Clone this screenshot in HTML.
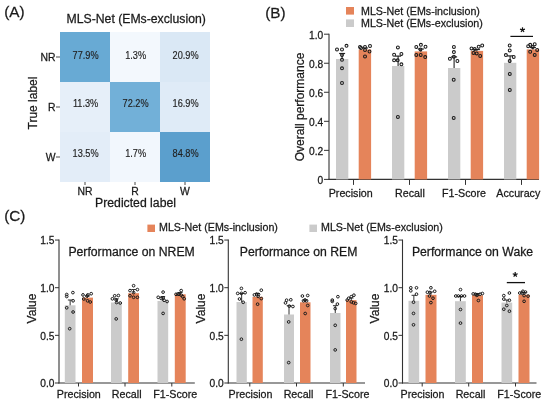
<!DOCTYPE html>
<html><head><meta charset="utf-8"><style>
html,body{margin:0;padding:0;background:#fff;width:550px;height:403px;overflow:hidden}
svg{display:block;font-family:"Liberation Sans", sans-serif;will-change:transform}
</style></head><body>
<svg width="550" height="403" viewBox="0 0 550 403">
<rect width="550" height="403" fill="#fff"/>
<text transform="translate(4.20,17.20) scale(1.02,1)" font-size="15" text-anchor="start" fill="#1a1a1a" stroke="#1a1a1a" stroke-width="0.25" >(A)</text>
<text transform="translate(136.20,22.50) scale(1.02,1)" font-size="12" text-anchor="middle" fill="#1a1a1a" stroke="#1a1a1a" stroke-width="0.25" >MLS-Net (EMs-exclusion)</text>
<rect x="60.00" y="32.00" width="50.00" height="50.00" fill="#68aad4"/>
<text transform="translate(85.60,58.60) scale(0.92,1)" font-size="10.0" text-anchor="middle" fill="#222" stroke="#222" stroke-width="0.15" >77.9%</text>
<rect x="110.00" y="32.00" width="50.00" height="50.00" fill="#f3f8fd"/>
<text transform="translate(135.60,58.60) scale(0.92,1)" font-size="10.0" text-anchor="middle" fill="#222" stroke="#222" stroke-width="0.15" >1.3%</text>
<rect x="160.00" y="32.00" width="50.00" height="50.00" fill="#dae8f5"/>
<text transform="translate(185.60,58.60) scale(0.92,1)" font-size="10.0" text-anchor="middle" fill="#222" stroke="#222" stroke-width="0.15" >20.9%</text>
<rect x="60.00" y="82.00" width="50.00" height="50.00" fill="#e6eff9"/>
<text transform="translate(85.60,106.80) scale(0.92,1)" font-size="10.0" text-anchor="middle" fill="#222" stroke="#222" stroke-width="0.15" >11.3%</text>
<rect x="110.00" y="82.00" width="50.00" height="50.00" fill="#72b0d8"/>
<text transform="translate(135.60,106.80) scale(0.92,1)" font-size="10.0" text-anchor="middle" fill="#222" stroke="#222" stroke-width="0.15" >72.2%</text>
<rect x="160.00" y="82.00" width="50.00" height="50.00" fill="#dfebf7"/>
<text transform="translate(185.60,106.80) scale(0.92,1)" font-size="10.0" text-anchor="middle" fill="#222" stroke="#222" stroke-width="0.15" >16.9%</text>
<rect x="60.00" y="132.00" width="50.00" height="50.00" fill="#e3edf8"/>
<text transform="translate(85.60,156.60) scale(0.92,1)" font-size="10.0" text-anchor="middle" fill="#222" stroke="#222" stroke-width="0.15" >13.5%</text>
<rect x="110.00" y="132.00" width="50.00" height="50.00" fill="#f2f7fd"/>
<text transform="translate(135.60,156.60) scale(0.92,1)" font-size="10.0" text-anchor="middle" fill="#222" stroke="#222" stroke-width="0.15" >1.7%</text>
<rect x="160.00" y="132.00" width="50.00" height="50.00" fill="#5b9fcd"/>
<text transform="translate(185.60,156.60) scale(0.92,1)" font-size="10.0" text-anchor="middle" fill="#222" stroke="#222" stroke-width="0.15" >84.8%</text>
<line x1="56.00" y1="57.00" x2="60.00" y2="57.00" stroke="#333333" stroke-width="0.9"/>
<text transform="translate(55.50,60.70) scale(1.02,1)" font-size="10.2" text-anchor="end" fill="#1a1a1a" stroke="#1a1a1a" stroke-width="0.25" >NR</text>
<line x1="85.00" y1="182.00" x2="85.00" y2="185.00" stroke="#333333" stroke-width="0.9"/>
<text transform="translate(85.00,194.80) scale(1.02,1)" font-size="10.2" text-anchor="middle" fill="#1a1a1a" stroke="#1a1a1a" stroke-width="0.25" >NR</text>
<line x1="56.00" y1="107.00" x2="60.00" y2="107.00" stroke="#333333" stroke-width="0.9"/>
<text transform="translate(55.50,110.70) scale(1.02,1)" font-size="10.2" text-anchor="end" fill="#1a1a1a" stroke="#1a1a1a" stroke-width="0.25" >R</text>
<line x1="135.00" y1="182.00" x2="135.00" y2="185.00" stroke="#333333" stroke-width="0.9"/>
<text transform="translate(135.00,194.80) scale(1.02,1)" font-size="10.2" text-anchor="middle" fill="#1a1a1a" stroke="#1a1a1a" stroke-width="0.25" >R</text>
<line x1="56.00" y1="157.00" x2="60.00" y2="157.00" stroke="#333333" stroke-width="0.9"/>
<text transform="translate(55.50,160.70) scale(1.02,1)" font-size="10.2" text-anchor="end" fill="#1a1a1a" stroke="#1a1a1a" stroke-width="0.25" >W</text>
<line x1="185.00" y1="182.00" x2="185.00" y2="185.00" stroke="#333333" stroke-width="0.9"/>
<text transform="translate(185.00,194.80) scale(1.02,1)" font-size="10.2" text-anchor="middle" fill="#1a1a1a" stroke="#1a1a1a" stroke-width="0.25" >W</text>
<text transform="translate(135.50,207.30) scale(1.02,1)" font-size="12" text-anchor="middle" fill="#1a1a1a" stroke="#1a1a1a" stroke-width="0.25" >Predicted label</text>
<text x="0" y="0" font-size="12" text-anchor="middle" fill="#1a1a1a" stroke="#1a1a1a" stroke-width="0.25" transform="translate(36.6,103) rotate(-90)">True label</text>
<text transform="translate(265.20,17.50) scale(1.02,1)" font-size="15" text-anchor="start" fill="#1a1a1a" stroke="#1a1a1a" stroke-width="0.25" >(B)</text>
<rect x="346.00" y="7.00" width="8.00" height="7.60" fill="#e5845a"/>
<rect x="346.00" y="19.40" width="8.00" height="7.60" fill="#cbcbcb"/>
<text transform="translate(361.00,15.20) scale(1.02,1)" font-size="10.5" text-anchor="start" fill="#1a1a1a" stroke="#1a1a1a" stroke-width="0.25" >MLS-Net (EMs-inclusion)</text>
<text transform="translate(361.00,27.20) scale(1.02,1)" font-size="10.5" text-anchor="start" fill="#1a1a1a" stroke="#1a1a1a" stroke-width="0.25" >MLS-Net (EMs-exclusion)</text>
<line x1="329.00" y1="33.70" x2="329.00" y2="179.90" stroke="#333333" stroke-width="1.1"/>
<line x1="328.50" y1="179.40" x2="539.00" y2="179.40" stroke="#333333" stroke-width="1.1"/>
<line x1="324.00" y1="179.40" x2="329.00" y2="179.40" stroke="#333333" stroke-width="1.0"/>
<text transform="translate(323.20,183.70) scale(1.02,1)" font-size="10.0" text-anchor="end" fill="#1a1a1a" stroke="#1a1a1a" stroke-width="0.25" >0</text>
<line x1="324.00" y1="150.36" x2="329.00" y2="150.36" stroke="#333333" stroke-width="1.0"/>
<text transform="translate(323.20,154.66) scale(1.02,1)" font-size="10.0" text-anchor="end" fill="#1a1a1a" stroke="#1a1a1a" stroke-width="0.25" >0.2</text>
<line x1="324.00" y1="121.32" x2="329.00" y2="121.32" stroke="#333333" stroke-width="1.0"/>
<text transform="translate(323.20,125.62) scale(1.02,1)" font-size="10.0" text-anchor="end" fill="#1a1a1a" stroke="#1a1a1a" stroke-width="0.25" >0.4</text>
<line x1="324.00" y1="92.28" x2="329.00" y2="92.28" stroke="#333333" stroke-width="1.0"/>
<text transform="translate(323.20,96.58) scale(1.02,1)" font-size="10.0" text-anchor="end" fill="#1a1a1a" stroke="#1a1a1a" stroke-width="0.25" >0.6</text>
<line x1="324.00" y1="63.24" x2="329.00" y2="63.24" stroke="#333333" stroke-width="1.0"/>
<text transform="translate(323.20,67.54) scale(1.02,1)" font-size="10.0" text-anchor="end" fill="#1a1a1a" stroke="#1a1a1a" stroke-width="0.25" >0.8</text>
<line x1="324.00" y1="34.20" x2="329.00" y2="34.20" stroke="#333333" stroke-width="1.0"/>
<text transform="translate(323.20,38.50) scale(1.02,1)" font-size="10.0" text-anchor="end" fill="#1a1a1a" stroke="#1a1a1a" stroke-width="0.25" >1.0</text>
<text x="0" y="0" font-size="12" text-anchor="middle" fill="#1a1a1a" stroke="#1a1a1a" stroke-width="0.25" transform="translate(304.2,107) rotate(-90)">Overall performance</text>
<rect x="336.00" y="59.00" width="12.30" height="120.40" fill="#cbcbcb"/>
<rect x="358.70" y="49.50" width="12.40" height="129.90" fill="#e5845a"/>
<line x1="342.10" y1="53.50" x2="342.10" y2="59.00" stroke="#222" stroke-width="1.1"/>
<line x1="339.10" y1="53.50" x2="345.10" y2="53.50" stroke="#222" stroke-width="1.2"/>
<line x1="364.90" y1="48.00" x2="364.90" y2="49.50" stroke="#222" stroke-width="1.1"/>
<line x1="361.90" y1="48.00" x2="367.90" y2="48.00" stroke="#222" stroke-width="1.2"/>
<circle cx="337.00" cy="49.50" r="1.45" fill="none" stroke="#1a1a1a" stroke-width="1.05"/>
<circle cx="342.00" cy="49.50" r="1.45" fill="none" stroke="#1a1a1a" stroke-width="1.05"/>
<circle cx="346.50" cy="45.80" r="1.45" fill="none" stroke="#1a1a1a" stroke-width="1.05"/>
<circle cx="342.00" cy="55.00" r="1.45" fill="none" stroke="#1a1a1a" stroke-width="1.05"/>
<circle cx="342.00" cy="59.80" r="1.45" fill="none" stroke="#1a1a1a" stroke-width="1.05"/>
<circle cx="342.00" cy="68.30" r="1.45" fill="none" stroke="#1a1a1a" stroke-width="1.05"/>
<circle cx="342.00" cy="83.00" r="1.45" fill="none" stroke="#1a1a1a" stroke-width="1.05"/>
<circle cx="360.00" cy="47.00" r="1.45" fill="none" stroke="#1a1a1a" stroke-width="1.05"/>
<circle cx="365.00" cy="47.00" r="1.45" fill="none" stroke="#1a1a1a" stroke-width="1.05"/>
<circle cx="370.00" cy="46.00" r="1.45" fill="none" stroke="#1a1a1a" stroke-width="1.05"/>
<circle cx="365.00" cy="50.00" r="1.45" fill="none" stroke="#1a1a1a" stroke-width="1.05"/>
<circle cx="369.50" cy="51.50" r="1.45" fill="none" stroke="#1a1a1a" stroke-width="1.05"/>
<circle cx="365.00" cy="56.50" r="1.45" fill="none" stroke="#1a1a1a" stroke-width="1.05"/>
<circle cx="361.00" cy="48.00" r="1.45" fill="none" stroke="#1a1a1a" stroke-width="1.05"/>
<line x1="353.50" y1="179.40" x2="353.50" y2="184.90" stroke="#333333" stroke-width="1.0"/>
<text transform="translate(350.70,197.40) scale(1.02,1)" font-size="10.5" text-anchor="middle" fill="#1a1a1a" stroke="#1a1a1a" stroke-width="0.25" >Precision</text>
<rect x="392.00" y="66.00" width="12.30" height="113.40" fill="#cbcbcb"/>
<rect x="414.70" y="51.40" width="12.40" height="128.00" fill="#e5845a"/>
<line x1="398.10" y1="56.10" x2="398.10" y2="66.00" stroke="#222" stroke-width="1.1"/>
<line x1="395.10" y1="56.10" x2="401.10" y2="56.10" stroke="#222" stroke-width="1.2"/>
<line x1="420.90" y1="49.00" x2="420.90" y2="51.40" stroke="#222" stroke-width="1.1"/>
<line x1="417.90" y1="49.00" x2="423.90" y2="49.00" stroke="#222" stroke-width="1.2"/>
<circle cx="397.90" cy="47.40" r="1.45" fill="none" stroke="#1a1a1a" stroke-width="1.05"/>
<circle cx="394.10" cy="54.70" r="1.45" fill="none" stroke="#1a1a1a" stroke-width="1.05"/>
<circle cx="401.40" cy="53.90" r="1.45" fill="none" stroke="#1a1a1a" stroke-width="1.05"/>
<circle cx="394.10" cy="60.30" r="1.45" fill="none" stroke="#1a1a1a" stroke-width="1.05"/>
<circle cx="397.70" cy="60.30" r="1.45" fill="none" stroke="#1a1a1a" stroke-width="1.05"/>
<circle cx="401.40" cy="64.30" r="1.45" fill="none" stroke="#1a1a1a" stroke-width="1.05"/>
<circle cx="397.90" cy="116.90" r="1.45" fill="none" stroke="#1a1a1a" stroke-width="1.05"/>
<circle cx="416.30" cy="46.90" r="1.45" fill="none" stroke="#1a1a1a" stroke-width="1.05"/>
<circle cx="420.90" cy="44.80" r="1.45" fill="none" stroke="#1a1a1a" stroke-width="1.05"/>
<circle cx="425.50" cy="46.70" r="1.45" fill="none" stroke="#1a1a1a" stroke-width="1.05"/>
<circle cx="420.50" cy="49.40" r="1.45" fill="none" stroke="#1a1a1a" stroke-width="1.05"/>
<circle cx="416.30" cy="54.90" r="1.45" fill="none" stroke="#1a1a1a" stroke-width="1.05"/>
<circle cx="420.70" cy="54.90" r="1.45" fill="none" stroke="#1a1a1a" stroke-width="1.05"/>
<circle cx="425.20" cy="57.10" r="1.45" fill="none" stroke="#1a1a1a" stroke-width="1.05"/>
<line x1="409.50" y1="179.40" x2="409.50" y2="184.90" stroke="#333333" stroke-width="1.0"/>
<text transform="translate(409.90,197.40) scale(1.02,1)" font-size="10.5" text-anchor="middle" fill="#1a1a1a" stroke="#1a1a1a" stroke-width="0.25" >Recall</text>
<rect x="448.00" y="68.00" width="12.30" height="111.40" fill="#cbcbcb"/>
<rect x="470.70" y="50.90" width="12.40" height="128.50" fill="#e5845a"/>
<line x1="454.10" y1="56.90" x2="454.10" y2="68.00" stroke="#222" stroke-width="1.1"/>
<line x1="451.10" y1="56.90" x2="457.10" y2="56.90" stroke="#222" stroke-width="1.2"/>
<line x1="476.90" y1="49.50" x2="476.90" y2="50.90" stroke="#222" stroke-width="1.1"/>
<line x1="473.90" y1="49.50" x2="479.90" y2="49.50" stroke="#222" stroke-width="1.2"/>
<circle cx="453.90" cy="46.90" r="1.45" fill="none" stroke="#1a1a1a" stroke-width="1.05"/>
<circle cx="453.90" cy="52.10" r="1.45" fill="none" stroke="#1a1a1a" stroke-width="1.05"/>
<circle cx="453.90" cy="56.70" r="1.45" fill="none" stroke="#1a1a1a" stroke-width="1.05"/>
<circle cx="449.90" cy="58.70" r="1.45" fill="none" stroke="#1a1a1a" stroke-width="1.05"/>
<circle cx="457.40" cy="61.00" r="1.45" fill="none" stroke="#1a1a1a" stroke-width="1.05"/>
<circle cx="453.70" cy="79.70" r="1.45" fill="none" stroke="#1a1a1a" stroke-width="1.05"/>
<circle cx="453.70" cy="117.90" r="1.45" fill="none" stroke="#1a1a1a" stroke-width="1.05"/>
<circle cx="471.50" cy="48.40" r="1.45" fill="none" stroke="#1a1a1a" stroke-width="1.05"/>
<circle cx="474.70" cy="49.10" r="1.45" fill="none" stroke="#1a1a1a" stroke-width="1.05"/>
<circle cx="478.70" cy="46.70" r="1.45" fill="none" stroke="#1a1a1a" stroke-width="1.05"/>
<circle cx="482.20" cy="45.50" r="1.45" fill="none" stroke="#1a1a1a" stroke-width="1.05"/>
<circle cx="473.50" cy="52.90" r="1.45" fill="none" stroke="#1a1a1a" stroke-width="1.05"/>
<circle cx="476.70" cy="53.40" r="1.45" fill="none" stroke="#1a1a1a" stroke-width="1.05"/>
<circle cx="480.20" cy="55.90" r="1.45" fill="none" stroke="#1a1a1a" stroke-width="1.05"/>
<line x1="465.50" y1="179.40" x2="465.50" y2="184.90" stroke="#333333" stroke-width="1.0"/>
<text transform="translate(464.00,197.40) scale(1.02,1)" font-size="10.5" text-anchor="middle" fill="#1a1a1a" stroke="#1a1a1a" stroke-width="0.25" >F1-Score</text>
<rect x="504.00" y="62.80" width="12.30" height="116.60" fill="#cbcbcb"/>
<rect x="526.70" y="49.40" width="12.40" height="130.00" fill="#e5845a"/>
<line x1="510.10" y1="55.90" x2="510.10" y2="62.80" stroke="#222" stroke-width="1.1"/>
<line x1="507.10" y1="55.90" x2="513.10" y2="55.90" stroke="#222" stroke-width="1.2"/>
<line x1="532.90" y1="47.50" x2="532.90" y2="49.40" stroke="#222" stroke-width="1.1"/>
<line x1="529.90" y1="47.50" x2="535.90" y2="47.50" stroke="#222" stroke-width="1.2"/>
<circle cx="509.70" cy="45.50" r="1.45" fill="none" stroke="#1a1a1a" stroke-width="1.05"/>
<circle cx="509.70" cy="50.40" r="1.45" fill="none" stroke="#1a1a1a" stroke-width="1.05"/>
<circle cx="505.90" cy="55.10" r="1.45" fill="none" stroke="#1a1a1a" stroke-width="1.05"/>
<circle cx="513.70" cy="56.90" r="1.45" fill="none" stroke="#1a1a1a" stroke-width="1.05"/>
<circle cx="509.70" cy="61.00" r="1.45" fill="none" stroke="#1a1a1a" stroke-width="1.05"/>
<circle cx="509.80" cy="73.90" r="1.45" fill="none" stroke="#1a1a1a" stroke-width="1.05"/>
<circle cx="509.80" cy="89.90" r="1.45" fill="none" stroke="#1a1a1a" stroke-width="1.05"/>
<circle cx="528.20" cy="46.20" r="1.45" fill="none" stroke="#1a1a1a" stroke-width="1.05"/>
<circle cx="530.20" cy="44.80" r="1.45" fill="none" stroke="#1a1a1a" stroke-width="1.05"/>
<circle cx="534.70" cy="44.20" r="1.45" fill="none" stroke="#1a1a1a" stroke-width="1.05"/>
<circle cx="532.70" cy="47.10" r="1.45" fill="none" stroke="#1a1a1a" stroke-width="1.05"/>
<circle cx="537.20" cy="49.90" r="1.45" fill="none" stroke="#1a1a1a" stroke-width="1.05"/>
<circle cx="530.20" cy="51.70" r="1.45" fill="none" stroke="#1a1a1a" stroke-width="1.05"/>
<circle cx="534.70" cy="54.90" r="1.45" fill="none" stroke="#1a1a1a" stroke-width="1.05"/>
<line x1="521.50" y1="179.40" x2="521.50" y2="184.90" stroke="#333333" stroke-width="1.0"/>
<text transform="translate(518.30,197.40) scale(1.02,1)" font-size="10.5" text-anchor="middle" fill="#1a1a1a" stroke="#1a1a1a" stroke-width="0.25" >Accuracy</text>
<line x1="510.40" y1="36.40" x2="533.00" y2="36.40" stroke="#111" stroke-width="1.2"/>
<line x1="522.50" y1="29.90" x2="522.50" y2="27.30" stroke="#111" stroke-width="1.2" stroke-linecap="butt"/>
<line x1="522.50" y1="29.90" x2="524.97" y2="29.10" stroke="#111" stroke-width="1.2" stroke-linecap="butt"/>
<line x1="522.50" y1="29.90" x2="524.03" y2="32.00" stroke="#111" stroke-width="1.2" stroke-linecap="butt"/>
<line x1="522.50" y1="29.90" x2="520.97" y2="32.00" stroke="#111" stroke-width="1.2" stroke-linecap="butt"/>
<line x1="522.50" y1="29.90" x2="520.03" y2="29.10" stroke="#111" stroke-width="1.2" stroke-linecap="butt"/>
<text transform="translate(4.20,221.00) scale(1.02,1)" font-size="15" text-anchor="start" fill="#1a1a1a" stroke="#1a1a1a" stroke-width="0.25" >(C)</text>
<rect x="147.40" y="224.60" width="7.60" height="7.40" fill="#e5845a"/>
<text transform="translate(159.00,231.30) scale(1.02,1)" font-size="10.5" text-anchor="start" fill="#1a1a1a" stroke="#1a1a1a" stroke-width="0.25" >MLS-Net (EMs-inclusion)</text>
<rect x="309.40" y="224.60" width="7.60" height="7.40" fill="#cbcbcb"/>
<text transform="translate(321.00,231.30) scale(1.02,1)" font-size="10.5" text-anchor="start" fill="#1a1a1a" stroke="#1a1a1a" stroke-width="0.25" >MLS-Net (EMs-exclusion)</text>
<line x1="59.00" y1="239.55" x2="59.00" y2="383.50" stroke="#333333" stroke-width="1.1"/>
<line x1="58.50" y1="383.00" x2="194.80" y2="383.00" stroke="#333333" stroke-width="1.1"/>
<line x1="55.00" y1="383.00" x2="59.00" y2="383.00" stroke="#333333" stroke-width="1.0"/>
<text transform="translate(54.40,387.40) scale(1.02,1)" font-size="10.0" text-anchor="end" fill="#1a1a1a" stroke="#1a1a1a" stroke-width="0.25" >0.0</text>
<line x1="55.00" y1="335.35" x2="59.00" y2="335.35" stroke="#333333" stroke-width="1.0"/>
<text transform="translate(54.40,339.75) scale(1.02,1)" font-size="10.0" text-anchor="end" fill="#1a1a1a" stroke="#1a1a1a" stroke-width="0.25" >0.5</text>
<line x1="55.00" y1="287.70" x2="59.00" y2="287.70" stroke="#333333" stroke-width="1.0"/>
<text transform="translate(54.40,292.10) scale(1.02,1)" font-size="10.0" text-anchor="end" fill="#1a1a1a" stroke="#1a1a1a" stroke-width="0.25" >1.0</text>
<line x1="55.00" y1="240.05" x2="59.00" y2="240.05" stroke="#333333" stroke-width="1.0"/>
<text transform="translate(54.40,244.45) scale(1.02,1)" font-size="10.0" text-anchor="end" fill="#1a1a1a" stroke="#1a1a1a" stroke-width="0.25" >1.5</text>
<text transform="translate(131.60,255.70) scale(1.02,1)" font-size="12" text-anchor="middle" fill="#1a1a1a" stroke="#1a1a1a" stroke-width="0.25" >Performance on NREM</text>
<text x="0" y="0" font-size="12" text-anchor="middle" fill="#1a1a1a" stroke="#1a1a1a" stroke-width="0.25" transform="translate(35.9,308.5) rotate(-90)">Value</text>
<rect x="64.80" y="305.30" width="10.70" height="77.70" fill="#cbcbcb"/>
<rect x="82.00" y="297.60" width="11.00" height="85.40" fill="#e5845a"/>
<line x1="70.15" y1="300.00" x2="70.15" y2="305.30" stroke="#333333" stroke-width="1.0"/>
<line x1="67.85" y1="300.00" x2="72.45" y2="300.00" stroke="#333333" stroke-width="1.0"/>
<line x1="87.50" y1="296.00" x2="87.50" y2="297.60" stroke="#333333" stroke-width="1.0"/>
<line x1="85.20" y1="296.00" x2="89.80" y2="296.00" stroke="#333333" stroke-width="1.0"/>
<circle cx="72.90" cy="292.60" r="1.35" fill="none" stroke="#1a1a1a" stroke-width="1.0"/>
<circle cx="66.70" cy="294.50" r="1.35" fill="none" stroke="#1a1a1a" stroke-width="1.0"/>
<circle cx="66.70" cy="296.50" r="1.35" fill="none" stroke="#1a1a1a" stroke-width="1.0"/>
<circle cx="73.10" cy="300.80" r="1.35" fill="none" stroke="#1a1a1a" stroke-width="1.0"/>
<circle cx="66.70" cy="307.80" r="1.35" fill="none" stroke="#1a1a1a" stroke-width="1.0"/>
<circle cx="73.10" cy="312.00" r="1.35" fill="none" stroke="#1a1a1a" stroke-width="1.0"/>
<circle cx="69.70" cy="328.70" r="1.35" fill="none" stroke="#1a1a1a" stroke-width="1.0"/>
<circle cx="83.00" cy="294.90" r="1.35" fill="none" stroke="#1a1a1a" stroke-width="1.0"/>
<circle cx="87.80" cy="294.90" r="1.35" fill="none" stroke="#1a1a1a" stroke-width="1.0"/>
<circle cx="91.20" cy="293.70" r="1.35" fill="none" stroke="#1a1a1a" stroke-width="1.0"/>
<circle cx="83.80" cy="299.00" r="1.35" fill="none" stroke="#1a1a1a" stroke-width="1.0"/>
<circle cx="87.50" cy="300.80" r="1.35" fill="none" stroke="#1a1a1a" stroke-width="1.0"/>
<circle cx="90.20" cy="302.00" r="1.35" fill="none" stroke="#1a1a1a" stroke-width="1.0"/>
<circle cx="87.00" cy="296.00" r="1.35" fill="none" stroke="#1a1a1a" stroke-width="1.0"/>
<line x1="78.50" y1="383.00" x2="78.50" y2="386.50" stroke="#333333" stroke-width="1.0"/>
<text transform="translate(78.80,398.30) scale(1.02,1)" font-size="10.5" text-anchor="middle" fill="#1a1a1a" stroke="#1a1a1a" stroke-width="0.25" >Precision</text>
<rect x="111.00" y="302.50" width="10.80" height="80.50" fill="#cbcbcb"/>
<rect x="128.20" y="293.20" width="10.80" height="89.80" fill="#e5845a"/>
<line x1="116.40" y1="298.80" x2="116.40" y2="302.50" stroke="#333333" stroke-width="1.0"/>
<line x1="114.10" y1="298.80" x2="118.70" y2="298.80" stroke="#333333" stroke-width="1.0"/>
<line x1="133.60" y1="289.50" x2="133.60" y2="293.20" stroke="#333333" stroke-width="1.0"/>
<line x1="131.30" y1="289.50" x2="135.90" y2="289.50" stroke="#333333" stroke-width="1.0"/>
<circle cx="114.70" cy="295.80" r="1.35" fill="none" stroke="#1a1a1a" stroke-width="1.0"/>
<circle cx="118.40" cy="295.50" r="1.35" fill="none" stroke="#1a1a1a" stroke-width="1.0"/>
<circle cx="112.40" cy="298.80" r="1.35" fill="none" stroke="#1a1a1a" stroke-width="1.0"/>
<circle cx="116.60" cy="302.50" r="1.35" fill="none" stroke="#1a1a1a" stroke-width="1.0"/>
<circle cx="120.20" cy="303.00" r="1.35" fill="none" stroke="#1a1a1a" stroke-width="1.0"/>
<circle cx="116.20" cy="318.90" r="1.35" fill="none" stroke="#1a1a1a" stroke-width="1.0"/>
<circle cx="116.20" cy="300.00" r="1.35" fill="none" stroke="#1a1a1a" stroke-width="1.0"/>
<circle cx="133.60" cy="285.70" r="1.35" fill="none" stroke="#1a1a1a" stroke-width="1.0"/>
<circle cx="130.00" cy="290.60" r="1.35" fill="none" stroke="#1a1a1a" stroke-width="1.0"/>
<circle cx="137.40" cy="289.60" r="1.35" fill="none" stroke="#1a1a1a" stroke-width="1.0"/>
<circle cx="133.60" cy="292.60" r="1.35" fill="none" stroke="#1a1a1a" stroke-width="1.0"/>
<circle cx="130.00" cy="295.80" r="1.35" fill="none" stroke="#1a1a1a" stroke-width="1.0"/>
<circle cx="133.60" cy="297.30" r="1.35" fill="none" stroke="#1a1a1a" stroke-width="1.0"/>
<circle cx="137.40" cy="297.30" r="1.35" fill="none" stroke="#1a1a1a" stroke-width="1.0"/>
<line x1="125.00" y1="383.00" x2="125.00" y2="386.50" stroke="#333333" stroke-width="1.0"/>
<text transform="translate(126.70,398.30) scale(1.02,1)" font-size="10.5" text-anchor="middle" fill="#1a1a1a" stroke="#1a1a1a" stroke-width="0.25" >Recall</text>
<rect x="157.50" y="301.00" width="10.70" height="82.00" fill="#cbcbcb"/>
<rect x="174.80" y="294.30" width="10.90" height="88.70" fill="#e5845a"/>
<line x1="162.85" y1="296.50" x2="162.85" y2="301.00" stroke="#333333" stroke-width="1.0"/>
<line x1="160.55" y1="296.50" x2="165.15" y2="296.50" stroke="#333333" stroke-width="1.0"/>
<line x1="180.25" y1="292.50" x2="180.25" y2="294.30" stroke="#333333" stroke-width="1.0"/>
<line x1="177.95" y1="292.50" x2="182.55" y2="292.50" stroke="#333333" stroke-width="1.0"/>
<circle cx="163.10" cy="292.10" r="1.35" fill="none" stroke="#1a1a1a" stroke-width="1.0"/>
<circle cx="158.20" cy="297.30" r="1.35" fill="none" stroke="#1a1a1a" stroke-width="1.0"/>
<circle cx="161.20" cy="298.50" r="1.35" fill="none" stroke="#1a1a1a" stroke-width="1.0"/>
<circle cx="164.10" cy="300.30" r="1.35" fill="none" stroke="#1a1a1a" stroke-width="1.0"/>
<circle cx="167.10" cy="301.50" r="1.35" fill="none" stroke="#1a1a1a" stroke-width="1.0"/>
<circle cx="163.10" cy="313.40" r="1.35" fill="none" stroke="#1a1a1a" stroke-width="1.0"/>
<circle cx="163.10" cy="298.00" r="1.35" fill="none" stroke="#1a1a1a" stroke-width="1.0"/>
<circle cx="181.20" cy="290.60" r="1.35" fill="none" stroke="#1a1a1a" stroke-width="1.0"/>
<circle cx="176.00" cy="294.30" r="1.35" fill="none" stroke="#1a1a1a" stroke-width="1.0"/>
<circle cx="179.00" cy="294.30" r="1.35" fill="none" stroke="#1a1a1a" stroke-width="1.0"/>
<circle cx="181.20" cy="295.10" r="1.35" fill="none" stroke="#1a1a1a" stroke-width="1.0"/>
<circle cx="182.70" cy="296.60" r="1.35" fill="none" stroke="#1a1a1a" stroke-width="1.0"/>
<circle cx="184.20" cy="298.80" r="1.35" fill="none" stroke="#1a1a1a" stroke-width="1.0"/>
<circle cx="178.00" cy="294.00" r="1.35" fill="none" stroke="#1a1a1a" stroke-width="1.0"/>
<line x1="171.80" y1="383.00" x2="171.80" y2="386.50" stroke="#333333" stroke-width="1.0"/>
<text transform="translate(175.30,398.30) scale(1.02,1)" font-size="10.5" text-anchor="middle" fill="#1a1a1a" stroke="#1a1a1a" stroke-width="0.25" >F1-Score</text>
<line x1="228.30" y1="239.55" x2="228.30" y2="383.50" stroke="#333333" stroke-width="1.1"/>
<line x1="227.80" y1="383.00" x2="365.00" y2="383.00" stroke="#333333" stroke-width="1.1"/>
<line x1="224.30" y1="383.00" x2="228.30" y2="383.00" stroke="#333333" stroke-width="1.0"/>
<text transform="translate(223.70,387.40) scale(1.02,1)" font-size="10.0" text-anchor="end" fill="#1a1a1a" stroke="#1a1a1a" stroke-width="0.25" >0.0</text>
<line x1="224.30" y1="335.35" x2="228.30" y2="335.35" stroke="#333333" stroke-width="1.0"/>
<text transform="translate(223.70,339.75) scale(1.02,1)" font-size="10.0" text-anchor="end" fill="#1a1a1a" stroke="#1a1a1a" stroke-width="0.25" >0.5</text>
<line x1="224.30" y1="287.70" x2="228.30" y2="287.70" stroke="#333333" stroke-width="1.0"/>
<text transform="translate(223.70,292.10) scale(1.02,1)" font-size="10.0" text-anchor="end" fill="#1a1a1a" stroke="#1a1a1a" stroke-width="0.25" >1.0</text>
<line x1="224.30" y1="240.05" x2="228.30" y2="240.05" stroke="#333333" stroke-width="1.0"/>
<text transform="translate(223.70,244.45) scale(1.02,1)" font-size="10.0" text-anchor="end" fill="#1a1a1a" stroke="#1a1a1a" stroke-width="0.25" >1.5</text>
<text transform="translate(298.60,255.70) scale(1.02,1)" font-size="12" text-anchor="middle" fill="#1a1a1a" stroke="#1a1a1a" stroke-width="0.25" >Performance on REM</text>
<text x="0" y="0" font-size="12" text-anchor="middle" fill="#1a1a1a" stroke="#1a1a1a" stroke-width="0.25" transform="translate(205.2,308.5) rotate(-90)">Value</text>
<rect x="236.50" y="302.00" width="10.30" height="81.00" fill="#cbcbcb"/>
<rect x="252.50" y="296.80" width="10.30" height="86.20" fill="#e5845a"/>
<line x1="241.65" y1="293.50" x2="241.65" y2="302.00" stroke="#333333" stroke-width="1.0"/>
<line x1="239.35" y1="293.50" x2="243.95" y2="293.50" stroke="#333333" stroke-width="1.0"/>
<line x1="257.65" y1="293.50" x2="257.65" y2="296.80" stroke="#333333" stroke-width="1.0"/>
<line x1="255.35" y1="293.50" x2="259.95" y2="293.50" stroke="#333333" stroke-width="1.0"/>
<circle cx="241.40" cy="288.40" r="1.35" fill="none" stroke="#1a1a1a" stroke-width="1.0"/>
<circle cx="237.70" cy="293.40" r="1.35" fill="none" stroke="#1a1a1a" stroke-width="1.0"/>
<circle cx="241.40" cy="293.40" r="1.35" fill="none" stroke="#1a1a1a" stroke-width="1.0"/>
<circle cx="245.10" cy="292.70" r="1.35" fill="none" stroke="#1a1a1a" stroke-width="1.0"/>
<circle cx="239.50" cy="299.00" r="1.35" fill="none" stroke="#1a1a1a" stroke-width="1.0"/>
<circle cx="243.20" cy="302.30" r="1.35" fill="none" stroke="#1a1a1a" stroke-width="1.0"/>
<circle cx="241.40" cy="339.20" r="1.35" fill="none" stroke="#1a1a1a" stroke-width="1.0"/>
<circle cx="261.30" cy="290.20" r="1.35" fill="none" stroke="#1a1a1a" stroke-width="1.0"/>
<circle cx="254.40" cy="294.90" r="1.35" fill="none" stroke="#1a1a1a" stroke-width="1.0"/>
<circle cx="256.60" cy="294.00" r="1.35" fill="none" stroke="#1a1a1a" stroke-width="1.0"/>
<circle cx="258.50" cy="294.50" r="1.35" fill="none" stroke="#1a1a1a" stroke-width="1.0"/>
<circle cx="258.10" cy="296.40" r="1.35" fill="none" stroke="#1a1a1a" stroke-width="1.0"/>
<circle cx="261.30" cy="298.60" r="1.35" fill="none" stroke="#1a1a1a" stroke-width="1.0"/>
<circle cx="257.60" cy="304.20" r="1.35" fill="none" stroke="#1a1a1a" stroke-width="1.0"/>
<line x1="249.80" y1="383.00" x2="249.80" y2="386.50" stroke="#333333" stroke-width="1.0"/>
<text transform="translate(250.50,398.30) scale(1.02,1)" font-size="10.5" text-anchor="middle" fill="#1a1a1a" stroke="#1a1a1a" stroke-width="0.25" >Precision</text>
<rect x="284.00" y="314.50" width="10.00" height="68.50" fill="#cbcbcb"/>
<rect x="300.00" y="302.30" width="10.50" height="80.70" fill="#e5845a"/>
<line x1="289.00" y1="305.70" x2="289.00" y2="314.50" stroke="#333333" stroke-width="1.0"/>
<line x1="286.70" y1="305.70" x2="291.30" y2="305.70" stroke="#333333" stroke-width="1.0"/>
<line x1="305.25" y1="300.00" x2="305.25" y2="302.30" stroke="#333333" stroke-width="1.0"/>
<line x1="302.95" y1="300.00" x2="307.55" y2="300.00" stroke="#333333" stroke-width="1.0"/>
<circle cx="286.60" cy="300.20" r="1.35" fill="none" stroke="#1a1a1a" stroke-width="1.0"/>
<circle cx="290.80" cy="299.80" r="1.35" fill="none" stroke="#1a1a1a" stroke-width="1.0"/>
<circle cx="285.50" cy="302.90" r="1.35" fill="none" stroke="#1a1a1a" stroke-width="1.0"/>
<circle cx="289.30" cy="306.10" r="1.35" fill="none" stroke="#1a1a1a" stroke-width="1.0"/>
<circle cx="292.90" cy="306.50" r="1.35" fill="none" stroke="#1a1a1a" stroke-width="1.0"/>
<circle cx="288.70" cy="321.90" r="1.35" fill="none" stroke="#1a1a1a" stroke-width="1.0"/>
<circle cx="288.70" cy="362.60" r="1.35" fill="none" stroke="#1a1a1a" stroke-width="1.0"/>
<circle cx="302.40" cy="296.00" r="1.35" fill="none" stroke="#1a1a1a" stroke-width="1.0"/>
<circle cx="307.70" cy="295.50" r="1.35" fill="none" stroke="#1a1a1a" stroke-width="1.0"/>
<circle cx="303.50" cy="300.80" r="1.35" fill="none" stroke="#1a1a1a" stroke-width="1.0"/>
<circle cx="306.60" cy="300.80" r="1.35" fill="none" stroke="#1a1a1a" stroke-width="1.0"/>
<circle cx="307.70" cy="305.50" r="1.35" fill="none" stroke="#1a1a1a" stroke-width="1.0"/>
<circle cx="305.20" cy="313.50" r="1.35" fill="none" stroke="#1a1a1a" stroke-width="1.0"/>
<circle cx="305.00" cy="300.00" r="1.35" fill="none" stroke="#1a1a1a" stroke-width="1.0"/>
<line x1="296.50" y1="383.00" x2="296.50" y2="386.50" stroke="#333333" stroke-width="1.0"/>
<text transform="translate(298.50,398.30) scale(1.02,1)" font-size="10.5" text-anchor="middle" fill="#1a1a1a" stroke="#1a1a1a" stroke-width="0.25" >Recall</text>
<rect x="330.00" y="313.00" width="10.50" height="70.00" fill="#cbcbcb"/>
<rect x="346.00" y="300.10" width="10.50" height="82.90" fill="#e5845a"/>
<line x1="335.25" y1="305.70" x2="335.25" y2="313.00" stroke="#333333" stroke-width="1.0"/>
<line x1="332.95" y1="305.70" x2="337.55" y2="305.70" stroke="#333333" stroke-width="1.0"/>
<line x1="351.25" y1="298.00" x2="351.25" y2="300.10" stroke="#333333" stroke-width="1.0"/>
<line x1="348.95" y1="298.00" x2="353.55" y2="298.00" stroke="#333333" stroke-width="1.0"/>
<circle cx="337.90" cy="296.70" r="1.35" fill="none" stroke="#1a1a1a" stroke-width="1.0"/>
<circle cx="332.30" cy="300.10" r="1.35" fill="none" stroke="#1a1a1a" stroke-width="1.0"/>
<circle cx="332.30" cy="301.40" r="1.35" fill="none" stroke="#1a1a1a" stroke-width="1.0"/>
<circle cx="337.40" cy="304.10" r="1.35" fill="none" stroke="#1a1a1a" stroke-width="1.0"/>
<circle cx="335.20" cy="308.60" r="1.35" fill="none" stroke="#1a1a1a" stroke-width="1.0"/>
<circle cx="335.20" cy="325.30" r="1.35" fill="none" stroke="#1a1a1a" stroke-width="1.0"/>
<circle cx="335.20" cy="349.90" r="1.35" fill="none" stroke="#1a1a1a" stroke-width="1.0"/>
<circle cx="353.90" cy="295.20" r="1.35" fill="none" stroke="#1a1a1a" stroke-width="1.0"/>
<circle cx="351.30" cy="296.70" r="1.35" fill="none" stroke="#1a1a1a" stroke-width="1.0"/>
<circle cx="348.60" cy="298.30" r="1.35" fill="none" stroke="#1a1a1a" stroke-width="1.0"/>
<circle cx="347.20" cy="300.10" r="1.35" fill="none" stroke="#1a1a1a" stroke-width="1.0"/>
<circle cx="351.30" cy="301.90" r="1.35" fill="none" stroke="#1a1a1a" stroke-width="1.0"/>
<circle cx="353.50" cy="302.80" r="1.35" fill="none" stroke="#1a1a1a" stroke-width="1.0"/>
<circle cx="355.70" cy="303.40" r="1.35" fill="none" stroke="#1a1a1a" stroke-width="1.0"/>
<line x1="343.30" y1="383.00" x2="343.30" y2="386.50" stroke="#333333" stroke-width="1.0"/>
<text transform="translate(347.40,398.30) scale(1.02,1)" font-size="10.5" text-anchor="middle" fill="#1a1a1a" stroke="#1a1a1a" stroke-width="0.25" >F1-Score</text>
<line x1="402.50" y1="239.55" x2="402.50" y2="383.50" stroke="#333333" stroke-width="1.1"/>
<line x1="402.00" y1="383.00" x2="536.50" y2="383.00" stroke="#333333" stroke-width="1.1"/>
<line x1="398.50" y1="383.00" x2="402.50" y2="383.00" stroke="#333333" stroke-width="1.0"/>
<text transform="translate(397.90,387.40) scale(1.02,1)" font-size="10.0" text-anchor="end" fill="#1a1a1a" stroke="#1a1a1a" stroke-width="0.25" >0.0</text>
<line x1="398.50" y1="335.35" x2="402.50" y2="335.35" stroke="#333333" stroke-width="1.0"/>
<text transform="translate(397.90,339.75) scale(1.02,1)" font-size="10.0" text-anchor="end" fill="#1a1a1a" stroke="#1a1a1a" stroke-width="0.25" >0.5</text>
<line x1="398.50" y1="287.70" x2="402.50" y2="287.70" stroke="#333333" stroke-width="1.0"/>
<text transform="translate(397.90,292.10) scale(1.02,1)" font-size="10.0" text-anchor="end" fill="#1a1a1a" stroke="#1a1a1a" stroke-width="0.25" >1.0</text>
<line x1="398.50" y1="240.05" x2="402.50" y2="240.05" stroke="#333333" stroke-width="1.0"/>
<text transform="translate(397.90,244.45) scale(1.02,1)" font-size="10.0" text-anchor="end" fill="#1a1a1a" stroke="#1a1a1a" stroke-width="0.25" >1.5</text>
<text transform="translate(472.50,255.70) scale(1.02,1)" font-size="12" text-anchor="middle" fill="#1a1a1a" stroke="#1a1a1a" stroke-width="0.25" >Performance on Wake</text>
<text x="0" y="0" font-size="12" text-anchor="middle" fill="#1a1a1a" stroke="#1a1a1a" stroke-width="0.25" transform="translate(378.5,308.5) rotate(-90)">Value</text>
<rect x="408.50" y="300.80" width="10.70" height="82.20" fill="#cbcbcb"/>
<rect x="425.50" y="294.80" width="11.00" height="88.20" fill="#e5845a"/>
<line x1="413.85" y1="295.30" x2="413.85" y2="300.80" stroke="#333333" stroke-width="1.0"/>
<line x1="411.55" y1="295.30" x2="416.15" y2="295.30" stroke="#333333" stroke-width="1.0"/>
<line x1="431.00" y1="292.00" x2="431.00" y2="294.80" stroke="#333333" stroke-width="1.0"/>
<line x1="428.70" y1="292.00" x2="433.30" y2="292.00" stroke="#333333" stroke-width="1.0"/>
<circle cx="410.80" cy="287.80" r="1.35" fill="none" stroke="#1a1a1a" stroke-width="1.0"/>
<circle cx="410.80" cy="290.80" r="1.35" fill="none" stroke="#1a1a1a" stroke-width="1.0"/>
<circle cx="416.50" cy="287.80" r="1.35" fill="none" stroke="#1a1a1a" stroke-width="1.0"/>
<circle cx="416.50" cy="294.20" r="1.35" fill="none" stroke="#1a1a1a" stroke-width="1.0"/>
<circle cx="413.50" cy="302.20" r="1.35" fill="none" stroke="#1a1a1a" stroke-width="1.0"/>
<circle cx="413.50" cy="313.40" r="1.35" fill="none" stroke="#1a1a1a" stroke-width="1.0"/>
<circle cx="413.50" cy="324.80" r="1.35" fill="none" stroke="#1a1a1a" stroke-width="1.0"/>
<circle cx="430.90" cy="287.80" r="1.35" fill="none" stroke="#1a1a1a" stroke-width="1.0"/>
<circle cx="427.40" cy="292.20" r="1.35" fill="none" stroke="#1a1a1a" stroke-width="1.0"/>
<circle cx="429.90" cy="292.50" r="1.35" fill="none" stroke="#1a1a1a" stroke-width="1.0"/>
<circle cx="434.70" cy="291.30" r="1.35" fill="none" stroke="#1a1a1a" stroke-width="1.0"/>
<circle cx="429.50" cy="296.00" r="1.35" fill="none" stroke="#1a1a1a" stroke-width="1.0"/>
<circle cx="433.00" cy="298.20" r="1.35" fill="none" stroke="#1a1a1a" stroke-width="1.0"/>
<circle cx="430.90" cy="302.60" r="1.35" fill="none" stroke="#1a1a1a" stroke-width="1.0"/>
<line x1="422.20" y1="383.00" x2="422.20" y2="386.50" stroke="#333333" stroke-width="1.0"/>
<text transform="translate(422.50,398.30) scale(1.02,1)" font-size="10.5" text-anchor="middle" fill="#1a1a1a" stroke="#1a1a1a" stroke-width="0.25" >Precision</text>
<rect x="455.00" y="301.20" width="10.80" height="81.80" fill="#cbcbcb"/>
<rect x="472.00" y="295.30" width="11.00" height="87.70" fill="#e5845a"/>
<line x1="460.40" y1="296.50" x2="460.40" y2="301.20" stroke="#333333" stroke-width="1.0"/>
<line x1="458.10" y1="296.50" x2="462.70" y2="296.50" stroke="#333333" stroke-width="1.0"/>
<line x1="477.50" y1="293.50" x2="477.50" y2="295.30" stroke="#333333" stroke-width="1.0"/>
<line x1="475.20" y1="293.50" x2="479.80" y2="293.50" stroke="#333333" stroke-width="1.0"/>
<circle cx="460.50" cy="289.60" r="1.35" fill="none" stroke="#1a1a1a" stroke-width="1.0"/>
<circle cx="455.80" cy="296.00" r="1.35" fill="none" stroke="#1a1a1a" stroke-width="1.0"/>
<circle cx="458.40" cy="296.00" r="1.35" fill="none" stroke="#1a1a1a" stroke-width="1.0"/>
<circle cx="461.50" cy="296.00" r="1.35" fill="none" stroke="#1a1a1a" stroke-width="1.0"/>
<circle cx="464.50" cy="296.00" r="1.35" fill="none" stroke="#1a1a1a" stroke-width="1.0"/>
<circle cx="460.50" cy="309.50" r="1.35" fill="none" stroke="#1a1a1a" stroke-width="1.0"/>
<circle cx="460.50" cy="323.10" r="1.35" fill="none" stroke="#1a1a1a" stroke-width="1.0"/>
<circle cx="473.20" cy="293.90" r="1.35" fill="none" stroke="#1a1a1a" stroke-width="1.0"/>
<circle cx="475.40" cy="294.20" r="1.35" fill="none" stroke="#1a1a1a" stroke-width="1.0"/>
<circle cx="477.50" cy="294.80" r="1.35" fill="none" stroke="#1a1a1a" stroke-width="1.0"/>
<circle cx="480.10" cy="294.20" r="1.35" fill="none" stroke="#1a1a1a" stroke-width="1.0"/>
<circle cx="482.40" cy="293.50" r="1.35" fill="none" stroke="#1a1a1a" stroke-width="1.0"/>
<circle cx="476.70" cy="295.30" r="1.35" fill="none" stroke="#1a1a1a" stroke-width="1.0"/>
<circle cx="478.40" cy="300.50" r="1.35" fill="none" stroke="#1a1a1a" stroke-width="1.0"/>
<line x1="468.70" y1="383.00" x2="468.70" y2="386.50" stroke="#333333" stroke-width="1.0"/>
<text transform="translate(470.50,398.30) scale(1.02,1)" font-size="10.5" text-anchor="middle" fill="#1a1a1a" stroke="#1a1a1a" stroke-width="0.25" >Recall</text>
<rect x="501.50" y="302.60" width="10.70" height="80.40" fill="#cbcbcb"/>
<rect x="518.50" y="294.70" width="11.00" height="88.30" fill="#e5845a"/>
<line x1="506.85" y1="300.00" x2="506.85" y2="302.60" stroke="#333333" stroke-width="1.0"/>
<line x1="504.55" y1="300.00" x2="509.15" y2="300.00" stroke="#333333" stroke-width="1.0"/>
<line x1="524.00" y1="292.50" x2="524.00" y2="294.70" stroke="#333333" stroke-width="1.0"/>
<line x1="521.70" y1="292.50" x2="526.30" y2="292.50" stroke="#333333" stroke-width="1.0"/>
<circle cx="509.40" cy="293.00" r="1.35" fill="none" stroke="#1a1a1a" stroke-width="1.0"/>
<circle cx="503.80" cy="295.60" r="1.35" fill="none" stroke="#1a1a1a" stroke-width="1.0"/>
<circle cx="503.80" cy="299.10" r="1.35" fill="none" stroke="#1a1a1a" stroke-width="1.0"/>
<circle cx="509.40" cy="300.30" r="1.35" fill="none" stroke="#1a1a1a" stroke-width="1.0"/>
<circle cx="506.80" cy="305.50" r="1.35" fill="none" stroke="#1a1a1a" stroke-width="1.0"/>
<circle cx="503.80" cy="309.20" r="1.35" fill="none" stroke="#1a1a1a" stroke-width="1.0"/>
<circle cx="509.40" cy="311.20" r="1.35" fill="none" stroke="#1a1a1a" stroke-width="1.0"/>
<circle cx="519.80" cy="293.00" r="1.35" fill="none" stroke="#1a1a1a" stroke-width="1.0"/>
<circle cx="522.90" cy="291.30" r="1.35" fill="none" stroke="#1a1a1a" stroke-width="1.0"/>
<circle cx="525.50" cy="292.10" r="1.35" fill="none" stroke="#1a1a1a" stroke-width="1.0"/>
<circle cx="524.10" cy="295.60" r="1.35" fill="none" stroke="#1a1a1a" stroke-width="1.0"/>
<circle cx="528.10" cy="296.10" r="1.35" fill="none" stroke="#1a1a1a" stroke-width="1.0"/>
<circle cx="524.10" cy="301.30" r="1.35" fill="none" stroke="#1a1a1a" stroke-width="1.0"/>
<circle cx="522.00" cy="293.00" r="1.35" fill="none" stroke="#1a1a1a" stroke-width="1.0"/>
<line x1="515.50" y1="383.00" x2="515.50" y2="386.50" stroke="#333333" stroke-width="1.0"/>
<text transform="translate(519.30,398.30) scale(1.02,1)" font-size="10.5" text-anchor="middle" fill="#1a1a1a" stroke="#1a1a1a" stroke-width="0.25" >F1-Score</text>
<line x1="506.80" y1="282.60" x2="525.00" y2="282.60" stroke="#111" stroke-width="1.3"/>
<line x1="515.20" y1="274.60" x2="515.20" y2="272.00" stroke="#111" stroke-width="1.2" stroke-linecap="butt"/>
<line x1="515.20" y1="274.60" x2="517.67" y2="273.80" stroke="#111" stroke-width="1.2" stroke-linecap="butt"/>
<line x1="515.20" y1="274.60" x2="516.73" y2="276.70" stroke="#111" stroke-width="1.2" stroke-linecap="butt"/>
<line x1="515.20" y1="274.60" x2="513.67" y2="276.70" stroke="#111" stroke-width="1.2" stroke-linecap="butt"/>
<line x1="515.20" y1="274.60" x2="512.73" y2="273.80" stroke="#111" stroke-width="1.2" stroke-linecap="butt"/>
</svg></body></html>
